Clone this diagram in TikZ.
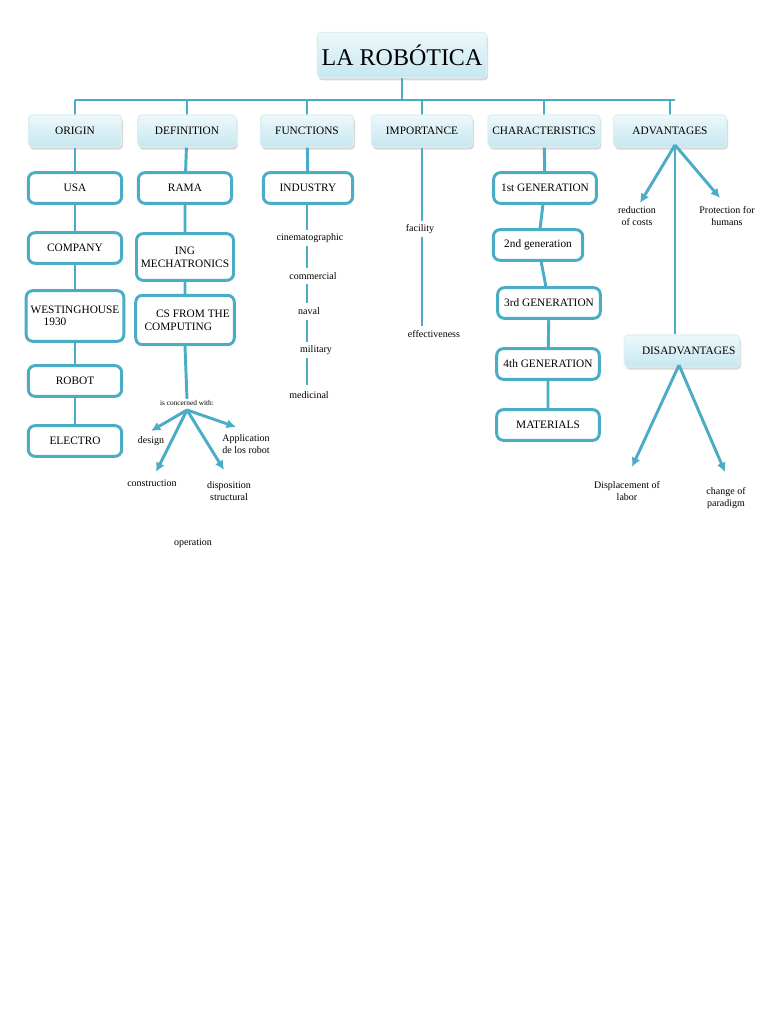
\documentclass[tikz,border=0pt]{standalone}
\usepackage{fontspec}
\setmainfont{Liberation Serif}
\usetikzlibrary{shadows}
\definecolor{ln}{HTML}{4BACC6}
\definecolor{hd}{HTML}{D3EEF4}
\begin{document}
\begin{tikzpicture}[x=0.75pt,y=-0.75pt,
 ln/.style={draw=ln,line width=2.2pt},
 arr/.style={ln,-{Latex[length=7pt,width=7pt]}},
 hdr/.style={draw=white!80!ln,line width=0.8pt,rounded corners=3pt,top color=white!60!hd,bottom color=hd!90!ln,drop shadow={shadow xshift=1pt,shadow yshift=-2pt,fill=black!30},font=\fontsize{8.5}{10}\selectfont,align=center},
 bx/.style={draw=ln,line width=2.2pt,rounded corners=5pt,fill=white,font=\fontsize{8.5}{10}\selectfont,align=center},
 lb/.style={font=\fontsize{7.5}{9}\selectfont,align=center,inner sep=1pt},
 tiny/.style={font=\fontsize{5.5}{6}\selectfont,inner sep=1pt}]
\useasboundingbox (0,0) rectangle (768,1024);
\usetikzlibrary{arrows.meta}
% title
\node[hdr,minimum width=126pt,minimum height=34pt,font=\fontsize{18}{20}\selectfont] (t) at (402,55) {LA ROBÓTICA};
\coordinate (bl) at (75,100); \coordinate (br) at (675,100); \coordinate (bt) at (402,100);
\draw[ln] (t.south) -- (bt); \draw[ln] (bl) -- (br);
% headers
\foreach \n/\x/\w/\t in {o/75/70/ORIGIN,d/187/74/DEFINITION,f/307/70/FUNCTIONS,i/422/76/IMPORTANCE,c/544/81/CHARACTERISTICS,a/670/85/ADVANTAGES}{
 \coordinate (b\n) at (\x,100);
 \draw[ln] (b\n) -- (\x,131);
 \node[hdr,minimum width=\w pt,minimum height=24pt] (\n) at (\x,131) {\t};
}
% origin
\node[bx,minimum width=70pt,minimum height=23pt] (o1) at (75,188) {USA};
\node[bx,minimum width=70pt,minimum height=23pt] (o2) at (75,248) {COMPANY};
\node[bx,minimum width=70pt,minimum height=38pt] (o3) at (75,316) {WESTINGHOUSE\\[-1pt]1930\hspace*{30pt}};
\node[bx,minimum width=70pt,minimum height=23pt] (o4) at (75,381) {ROBOT};
\node[bx,minimum width=70pt,minimum height=23pt] (o5) at (75,441) {ELECTRO};
\draw[ln] (o) -- (o1) -- (o2) -- (o3) -- (o4) -- (o5);
% definition
\node[bx,minimum width=70pt,minimum height=23pt] (d1) at (185,188) {RAMA};
\node[bx,minimum width=70pt,minimum height=35pt] (d2) at (185,257) {ING\\MECHATRONICS};
\node[bx,minimum width=70pt,minimum height=37pt] (d3) at (185,320) {\hspace*{12pt}CS FROM THE\\COMPUTING\hspace*{10pt}};
\draw[ln] (d) -- (d1) -- (d2) -- (d3);
\node[tiny] (dc) at (187,403) {is concerned with:};
\draw[ln] (d3.south) -- (dc.north);
\coordinate (dh) at (187,410);
\node[lb] (de1) at (151,441) {design};
\node[lb] (de2) at (246,444) {Application\\de los robot};
\node[lb] (de3) at (152,483) {construction};
\node[lb] (de4) at (229,491) {disposition\\structural};
\node[lb] (de5) at (193,543) {operation};
\draw[arr] (dh) -- (151,431);
\draw[arr] (dh) -- (236,427);
\draw[arr] (dh) -- (156,472);
\draw[arr] (dh) -- (224,470);
% functions
\node[bx,minimum width=67pt,minimum height=23pt] (f1) at (308,188) {INDUSTRY};
\node[lb] (f2) at (310,238) {cinematographic};
\node[lb] (f3) at (313,276) {commercial};
\node[lb] (f4) at (309,311) {naval};
\node[lb] (f5) at (316,350) {military};
\node[lb] (f6) at (309,395) {medicinal};
\draw[ln] (f) -- (f1);
\draw[ln] (307,203) -- (307,230) (307,246) -- (307,268) (307,284) -- (307,303) (307,320) -- (307,342) (307,358) -- (307,385);
% importance
\node[lb] (i1) at (420,229) {facility};
\node[lb] (i2) at (434,334) {effectiveness};
\draw[ln] (i) -- (422,221) (422,237) -- (422,326);
% characteristics
\node[bx,minimum width=77pt,minimum height=23pt] (c1) at (545,188) {1st GENERATION};
\node[bx,minimum width=67pt,minimum height=23pt] (c2) at (538,245) {2nd generation};
\node[bx,minimum width=77pt,minimum height=23pt] (c3) at (549,303) {3rd GENERATION};
\node[bx,minimum width=77pt,minimum height=23pt] (c4) at (548,364) {4th GENERATION};
\node[bx,minimum width=77pt,minimum height=23pt] (c5) at (548,425) {MATERIALS};
\draw[ln] (c) -- (c1) -- (c2) -- (c3) -- (c4) -- (c5);
% advantages
\coordinate (ah) at (675,145);
\node[lb] (a1) at (637,216) {reduction\\of costs};
\node[lb] (a2) at (727,216) {Protection for\\humans};
\draw[arr] (ah) -- (640,203);
\draw[arr] (ah) -- (720,198);
\node[hdr,minimum width=85pt,minimum height=24pt] (dis) at (682,351) {\hspace*{10pt}DISADVANTAGES};
\draw[ln] (ah) -- (dis.north -| ah);
\coordinate (dh2) at (679,365);
\node[lb] (ds1) at (627,491) {Displacement of\\labor};
\node[lb] (ds2) at (726,498) {change of\\paradigm};
\draw[arr] (dh2) -- (632,467);
\draw[arr] (dh2) -- (725,472);
\end{tikzpicture}
\end{document}
